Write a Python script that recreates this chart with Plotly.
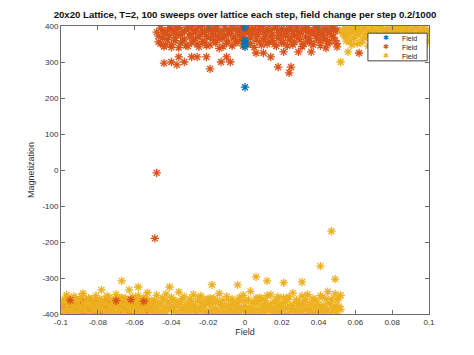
import plotly.graph_objects as go

# ---------------- data ----------------
# field steps, in units of 1/1000 (field = value / 1000)
field_milli = [
    -100, -99, -98, -97, -96, -95, -94, -93, -92, -91,
    -90, -89, -88, -87, -86, -85, -84, -83, -82, -81,
    -80, -79, -78, -77, -76, -75, -74, -73, -72, -71,
    -70, -69, -68, -67, -66, -65, -64, -63, -62, -61,
    -60, -59, -58, -57, -56, -55, -54, -53, -52, -51,
    -50, -49, -48, -47, -46, -45, -44, -43, -42, -41,
    -40, -39, -38, -37, -36, -35, -34, -33, -32, -31,
    -30, -29, -28, -27, -26, -25, -24, -23, -22, -21,
    -20, -19, -18, -17, -16, -15, -14, -13, -12, -11,
    -10, -9, -8, -7, -6, -5, -4, -3, -2, -1,
    0, 1, 2, 3, 4, 5, 6, 7, 8, 9,
    10, 11, 12, 13, 14, 15, 16, 17, 18, 19,
    20, 21, 22, 23, 24, 25, 26, 27, 28, 29,
    30, 31, 32, 33, 34, 35, 36, 37, 38, 39,
    40, 41, 42, 43, 44, 45, 46, 47, 48, 49,
    50, 51, 52, 53, 54, 55, 56, 57, 58, 59,
    60, 61, 62, 63, 64, 65, 66, 67, 68, 69,
    70, 71, 72, 73, 74, 75, 76, 77, 78, 79,
    80, 81, 82, 83, 84, 85, 86, 87, 88, 89,
    90, 91, 92, 93, 94, 95, 96, 97, 98, 99,
    100,
]

# series 1 (blue)
blue_field = [0.0, 0.0, 0.0, 0.0, 0.0]
blue_mag = [396, 360, 350, 342, 230]

# series 2 (orange): two samples per field step, field -0.100 .. 0.050
orange_mag_a = [
    -395, -368, -382, -399, -362, -388, -374, -396, -359, -385,
    -371, -392, -365, -380, -397, -361, -386, -376, -393, -367,
    -383, -398, -364, -378, -390, -360, -387, -372, -395, -369,
    -381, -363, -394, -375, -389, -366, -398, -379, -361, -384,
    -392, -370, -386, -363, -397, -377, -365, -390, -382, -368,
    -394, -190, -8,
    372, 351, 389, 343, 378, 362, 395, 348, 383, 367,
    391, 340, 375, 358, 386, 346, 397, 369, 353, 381,
    364, 392, 342, 377, 387, 355, 371, 396, 347, 384,
    360, 390, 373, 338, 381, 366, 394, 352, 379, 388,
    345, 370, 393, 357, 385, 363, 376, 398, 349, 382,
    368, 391, 341, 374, 387, 356, 395, 365, 380, 350,
    389, 372, 359, 396, 344, 383, 369, 392, 354, 377,
    386, 361, 397, 348, 375, 390, 366, 381, 343, 393,
    371, 358, 387, 352, 379, 395, 364, 384, 346, 374,
    391, 362, 380, 355, 397, 369, 385, 351,
]
orange_mag_b = [
    -385, -399, -371, -390, -377, -360, -396, -366, -389, -374,
    -398, -363, -383, -370, -391, -379, -361, -394, -373, -387,
    -367, -392, -380, -399, -369, -384, -362, -393, -376, -388,
    -365, -397, -372, -386, -360, -391, -378, -366, -395, -371,
    -383, -396, -368, -389, -374, -362, -393, -380, -367, -399,
    -376, -386, 383,
    356, 394, 366, 381, 349, 388, 373, 341, 392, 359,
    377, 396, 352, 384, 364, 390, 344, 379, 395, 361,
    387, 349, 371, 398, 357, 382, 346, 389, 368, 393,
    375, 354, 397, 363, 385, 343, 372, 391, 358, 380,
    394, 367, 353, 386, 374, 396, 345, 383, 362, 390,
    351, 379, 393, 361, 376, 398, 347, 385, 369, 392,
    357, 388, 374, 349, 395, 366, 381, 353, 390, 372,
    345, 393, 368, 384, 356, 397, 378, 362, 391, 350,
    386, 395, 365, 380, 348, 389, 373, 396, 359, 383,
    367, 392, 352, 387, 376, 394, 360, 389,
]
orange_out_field = [-0.044, -0.040, -0.037, -0.036, -0.033, -0.029, -0.026, -0.021,
                    -0.019, -0.013, -0.010, -0.008, 0.006, 0.010, 0.014, 0.018,
                    0.021, 0.024, 0.025, 0.029, 0.036, 0.044, 0.050, 0.062,
                    -0.095, -0.070, -0.062, -0.055]
orange_out_mag = [297, 300, 292, 314, 300, 314, 314, 314,
                  281, 300, 314, 300, 325, 325, 314, 286,
                  328, 270, 286, 328, 328, 339, 342, 325,
                  -362, -363, -360, -365]

# series 3 (yellow): two samples per field step, field -0.100 .. 0.100
yellow_mag_a = [
    -372, -395, -358, -366, -388, -366, -392, -351, -379, -398,
    -362, -385, -343, -371, -396, -356, -381, -367, -390, -349,
    -375, -359, -384, -386, -368, -397, -354, -378, -363, -391,
    -346, -383, -369, -355, -392, -357, -374, -387, -388, -352,
    -379, -365, -349, -394, -359, -372, -384, -341, -398, -363,
    -377, -389, -348, -370, -393, -356, -381, -345, -366, -382,
    -387, -361, -374, -396, -339, -368, -383, -352, -390, -371,
    -358, -379, -346, -393, -365, -384, -350, -376, -395, -361,
    -373, -357, -388, -356, -369, -392, -343, -380, -362, -397,
    -351, -375, -386, -358, -371, -391, -367, -364, -382, -348,
    -377, -393, -360, -337, -385, -369, -356, -389, -354, -374,
    -391, -363, -378, -380, -347, -395, -366, -378, -352, -387,
    -370, -355, -384, -359, -396, -375, -342, -389, -361, -377,
    -392, -350, -368, -383, -346, -373, -394, -357, -380, -365,
    -388, -349, -353, -376, -390, -338, -372, -359, -384, -344,
    -361, -379, -348,
    379, 372, 358, 389, 358, 381, 366,
    394, 351, 377, 386, 362, 397, 370, 345, 383, 359,
    391, 368, 379, 354, 396, 374, 362, 388, 349, 380,
    365, 393, 357, 384, 371, 398, 346, 378, 389, 363,
    382, 355, 395, 369, 376, 352, 385, 387, 373, 360,
    384,
]
yellow_mag_b = [
    -389, -364, -398, -379, -355, -393, -370, -384, -361, -396,
    -377, -352, -391, -382, -366, -399, -373, -358, -388, -369,
    -394, -381, -362, -371, -397, -350, -386, -374, -398, -365,
    -380, -393, -356, -389, -376, -399, -363, -383, -369, -391,
    -357, -395, -378, -366, -387, -399, -353, -381, -372, -390,
    -396, -362, -384, -399, -375, -391, -360, -394, -385, -369,
    -354, -392, -379, -365, -398, -383, -357, -395, -374, -388,
    -397, -366, -391, -380, -399, -356, -389, -368, -376, -393,
    -359, -394, -372, -399, -385, -364, -396, -371, -390, -378,
    -398, -361, -383, -395, -367, -379, -399, -354, -391, -386,
    -363, -397, -381, -392, -370, -398, -385, -366, -394, -359,
    -379, -396, -349, -390, -372, -384, -399, -361, -393, -376,
    -395, -382, -367, -399, -352, -388, -378, -397, -365, -391,
    -371, -398, -384, -360, -393, -387, -376, -399, -362, -395,
    -374, -392, -381, -397, -358, -390, -369, -396, -385, -377,
    -394, -356, -387,
    386, 395, 369, 377, 393, 348, 391,
    371, 384, 397, 353, 388, 376, 392, 382, 366, 395,
    358, 387, 373, 398, 364, 390, 380, 351, 393, 369,
    396, 376, 389, 361, 394, 356, 385, 372, 398, 380,
    367, 392, 378, 356, 396, 383, 370, 397, 351, 389,
    377,
]
yellow_out_field = [-0.097, -0.078, -0.067, -0.063, -0.058, -0.041, -0.018, -0.004,
                    0.006, 0.012, 0.021, 0.031, 0.041, 0.047, 0.049, 0.052, 0.056, 0.096]
yellow_out_mag = [-347, -333, -308, -333, -325, -325, -319, -319,
                  -297, -308, -313, -311, -267, -170, -303, 300, 328, 325]

x_ticks = [-0.1, -0.08, -0.06, -0.04, -0.02, 0, 0.02, 0.04, 0.06, 0.08, 0.1]
x_tick_text = ["-0.1", "-0.08", "-0.06", "-0.04", "-0.02", "0", "0.02", "0.04", "0.06", "0.08", "0.1"]
y_ticks = [-400, -300, -200, -100, 0, 100, 200, 300, 400]
y_tick_text = ["-400", "-300", "-200", "-100", "0", "100", "200", "300", "400"]

series_names = ["Field", "Field", "Field"]
series_colors = ["#0072BD", "#D95319", "#EDB120"]

# ---------------- figure ----------------
field_all = [v / 1000 for v in field_milli]
n_or = len(orange_mag_a)
n_ye = len(yellow_mag_a)

FONT = "Liberation Sans, Arial, sans-serif"


def marker(color):
    return dict(symbol="asterisk-open", size=7, color=color,
                line=dict(color=color, width=1.3))


fig = go.Figure()
# orange band drawn first, then yellow on top, with the few orange points that peek through
fig.add_trace(go.Scatter(x=field_all[:n_or] + field_all[:n_or],
                         y=orange_mag_a + orange_mag_b, mode="markers",
                         name=series_names[1], marker=marker(series_colors[1])))
fig.add_trace(go.Scatter(x=field_all[:n_ye] + field_all[:n_ye] + yellow_out_field,
                         y=yellow_mag_a + yellow_mag_b + yellow_out_mag, mode="markers",
                         name=series_names[2], marker=marker(series_colors[2])))
fig.add_trace(go.Scatter(x=orange_out_field, y=orange_out_mag, mode="markers",
                         name=series_names[1], marker=marker(series_colors[1])))
fig.add_trace(go.Scatter(x=blue_field, y=blue_mag, mode="markers",
                         name=series_names[0], marker=marker(series_colors[0])))

axis_common = dict(
    showline=True, linecolor="#6b6b6b", linewidth=1, mirror="allticks",
    ticks="inside", ticklen=4, tickcolor="#6b6b6b", showgrid=False, zeroline=False,
    tickfont=dict(family=FONT, size=8, color="#333333"),
)

# MATLAB-style compact legend box (top right, inside the axes)
legend_x0, legend_x1 = 0.834, 0.995
legend_y0, legend_y1 = 0.879, 0.975
legend_mid_y = 0.927
legend_mark_x = 0.883
legend_text_x = 0.925

marks_text = "<br>".join('<span style="color:%s">✱</span>' % c for c in series_colors)
names_text = "<br>".join(series_names)

fig.update_layout(
    width=474, height=355,
    margin=dict(l=53, r=53, t=18, b=49),
    paper_bgcolor="white", plot_bgcolor="white",
    showlegend=False,
    title=dict(text="<b>20x20 Lattice, T=2, 100 sweeps over lattice each step, field change per step 0.2/1000</b>",
               x=0.5, xanchor="center", y=0.980, yanchor="middle",
               font=dict(family=FONT, size=9.6, color="#111111")),
    xaxis=dict(range=[-0.1, 0.1], tickvals=x_ticks, ticktext=x_tick_text,
               title=dict(text="Field", standoff=2, font=dict(family=FONT, size=9, color="#333333")),
               **axis_common),
    yaxis=dict(range=[-400, 400], tickvals=y_ticks, ticktext=y_tick_text,
               title=dict(text="Magnetization", standoff=6, font=dict(family=FONT, size=9, color="#333333")),
               **axis_common),
    shapes=[dict(type="rect", xref="paper", yref="paper",
                 x0=legend_x0, x1=legend_x1, y0=legend_y0, y1=legend_y1,
                 fillcolor="white", line=dict(color="#444444", width=1), layer="above")],
    annotations=[
        dict(x=legend_mark_x, y=legend_mid_y, xref="paper", yref="paper", text=marks_text,
             showarrow=False, xanchor="center", yanchor="middle", borderpad=0,
             font=dict(family="DejaVu Sans", size=7, color="#222222")),
        dict(x=legend_text_x, y=legend_mid_y, xref="paper", yref="paper", text=names_text,
             showarrow=False, xanchor="left", yanchor="middle", align="left", borderpad=0,
             font=dict(family=FONT, size=7, color="#222222")),
    ],
)

fig.write_html("out.html")
